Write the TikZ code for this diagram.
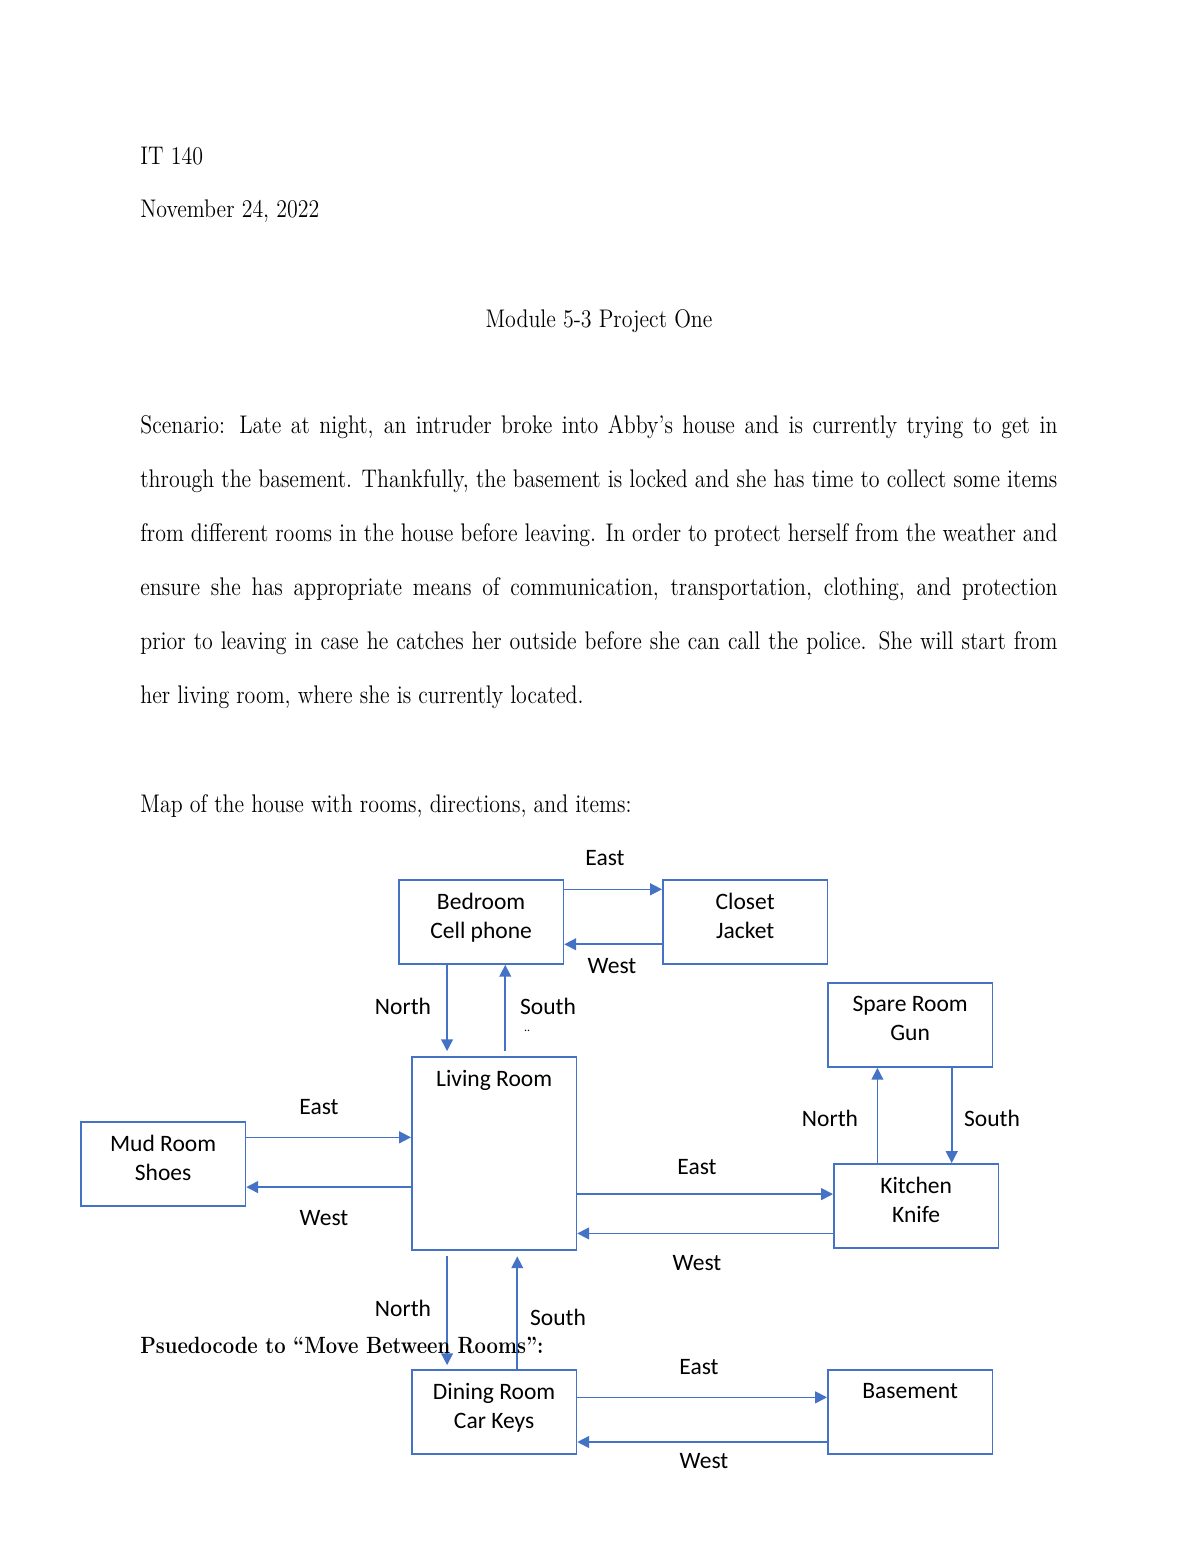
\documentclass[tikz,border=0pt]{standalone}
\usepackage{fontspec}
\setmainfont{lmroman12-regular.otf}[FakeStretch=0.86, BoldFont=lmroman12-bold.otf]
\newfontfamily\lblfont{Carlito}
\usetikzlibrary{arrows.meta,calc,positioning}
\definecolor{wordblue}{HTML}{4472C4}

\tikzset{
  room/.style={draw=wordblue, line width=0.8pt, anchor=north west,
    minimum width=84pt, minimum height=43pt, inner sep=0pt},
  roomtext/.style={font=\lblfont\fontsize{12}{14.8}\selectfont, align=center, inner sep=0pt},
  dir/.style={font=\lblfont\fontsize{12}{14}\selectfont, inner sep=0pt},
  go/.style={draw=wordblue, line width=0.8pt, -{Triangle[length=6pt,width=6pt]}},
  body/.style={font=\fontsize{13}{15}\selectfont, anchor=base west, inner sep=0pt},
}

\begin{document}
\begin{tikzpicture}[x=0.51pt, y=-0.51pt]
  \useasboundingbox (0,0) rectangle (1200,1553);
  \fill[white] (0,0) rectangle (1200,1553);

  % heading
  \node[body] (course) at (140,165) {IT 140};
  \node[body] (date) at (140,218) {November 24, 2022};
  \node[body, anchor=base] (title) at (599,327) {Module 5-3 Project One};

  % scenario
  \foreach \ln [count=\i] in {
    {Scenario: Late at night, an intruder broke into Abby’s house and is currently trying to get in},
    {through the basement. Thankfully, the basement is locked and she has time to collect some items},
    {from different rooms in the house before leaving. In order to protect herself from the weather and},
    {ensure she has appropriate means of communication, transportation, clothing, and protection},
    {prior to leaving in case he catches her outside before she can call the police. She will start from}}
    \node[body] (par\i) at (140,{433+54*(\i-1)}) {\makebox[467.7pt][s]{\ln}};
  \node[body] (par6) at (140,703) {her living room, where she is currently located.};

  \node[body] (maphead) at (140,812) {Map of the house with rooms, directions, and items:};

  % rooms
  \node[room] (bed) at (398,879) {};
  \node[room] (clo) at (662,879) {};
  \node[room] (spa) at (827,982) {};
  \node[room, minimum height=98.4pt] (liv) at (411,1056) {};
  \node[room] (mud) at (80,1121) {};
  \node[room] (kit) at (833,1163) {};
  \node[room] (din) at (411,1369) {};
  \node[room] (bas) at (827,1369) {};

  \node[roomtext, below=7pt of bed.north] (bedtxt) {Bedroom\\Cell phone};
  \node[roomtext, below=7pt of clo.north] (clotxt) {Closet\\Jacket};
  \node[roomtext, below=7pt of spa.north] (spatxt) {Spare Room\\Gun};
  \node[roomtext, below=7pt of liv.north] (livtxt) {Living Room};
  \node[roomtext, below=7pt of mud.north] (mudtxt) {Mud Room\\Shoes};
  \node[roomtext, below=7pt of kit.north] (kittxt) {Kitchen\\Knife};
  \node[roomtext, below=7pt of din.north] (dintxt) {Dining Room\\Car Keys};
  \node[roomtext, below=7pt of bas.north] (bastxt) {Basement};

  % bedroom / closet
  \draw[go] ($(bed.north east)!.12!(bed.south east)$) coordinate (a1) -- (a1 -| clo.west);
  \draw[go] ($(clo.north west)!.76!(clo.south west)$) coordinate (a2) -- (a2 -| bed.east);

  % bedroom / living room
  \draw[go] ($(bed.south west)!.295!(bed.south east)$) coordinate (a3) -- ($(a3 |- liv.north)+(0,2.5pt)$);
  \coordinate (a4) at ($(bed.south west)!.645!(bed.south east)$);
  \draw[go] ($(a4 |- liv.north)+(0,2.5pt)$) -- (a4);

  % mud room / living room
  \draw[go] ($(mud.north east)!.19!(mud.south east)$) coordinate (a5) -- (a5 -| liv.west);
  \draw[go] ($(liv.north west)!.674!(liv.south west)$) coordinate (a6) -- (a6 -| mud.east);

  % living room / kitchen
  \draw[go] ($(liv.north east)!.71!(liv.south east)$) coordinate (a7) -- (a7 -| kit.west);
  \draw[go] ($(kit.north west)!.82!(kit.south west)$) coordinate (a8) -- (a8 -| liv.east);

  % kitchen / spare room
  \draw[go] ($(kit.north west)!.267!(kit.north east)$) coordinate (a9) -- (a9 |- spa.south);
  \draw[go] ($(spa.south west)!.75!(spa.south east)$) coordinate (a10) -- (a10 |- kit.north);

  % living room / dining room
  \coordinate (a11) at ($(liv.south west)!.217!(liv.south east)$);
  \draw[go] ($(a11)+(0,-3pt)$) -- ($(a11 |- din.north)+(0,2pt)$);
  \coordinate (a12) at ($(din.north west)!.639!(din.north east)$);
  \draw[go] (a12) -- ($(a12 |- liv.south)+(0,-3pt)$);

  % dining room / basement
  \draw[go] ($(din.north east)!.33!(din.south east)$) coordinate (a13) -- (a13 -| bas.west);
  \draw[go] ($(bas.north west)!.85!(bas.south west)$) coordinate (a14) -- (a14 -| din.east);

  % directions
  \node[dir] (e1) at (605,858) {East};
  \node[dir] (w1) at (612,966) {West};
  \node[dir] (n1) at (403,1006) {North};
  \node[dir] (s1) at (548,1006) {South};
  \node[dir, font=\lblfont\fontsize{6}{6}\selectfont] (dots) at (527,1031) {..};
  \node[dir] (e2) at (319,1107) {East};
  \node[dir] (w2) at (324,1218) {West};
  \node[dir] (e3) at (697,1167) {East};
  \node[dir] (w3) at (697,1263) {West};
  \node[dir] (n2) at (830,1118) {North};
  \node[dir] (s2) at (992,1118) {South};
  \node[dir] (n3) at (403,1308) {North};
  \node[dir] (s3) at (558,1317) {South};
  \node[dir] (e4) at (699,1367) {East};
  \node[dir] (w4) at (704,1461) {West};

  \node[body, font=\fontsize{12}{14}\selectfont\bfseries] (pseudo) at (140,1353) {Psuedocode to “Move Between Rooms”:};
\end{tikzpicture}
\end{document}
